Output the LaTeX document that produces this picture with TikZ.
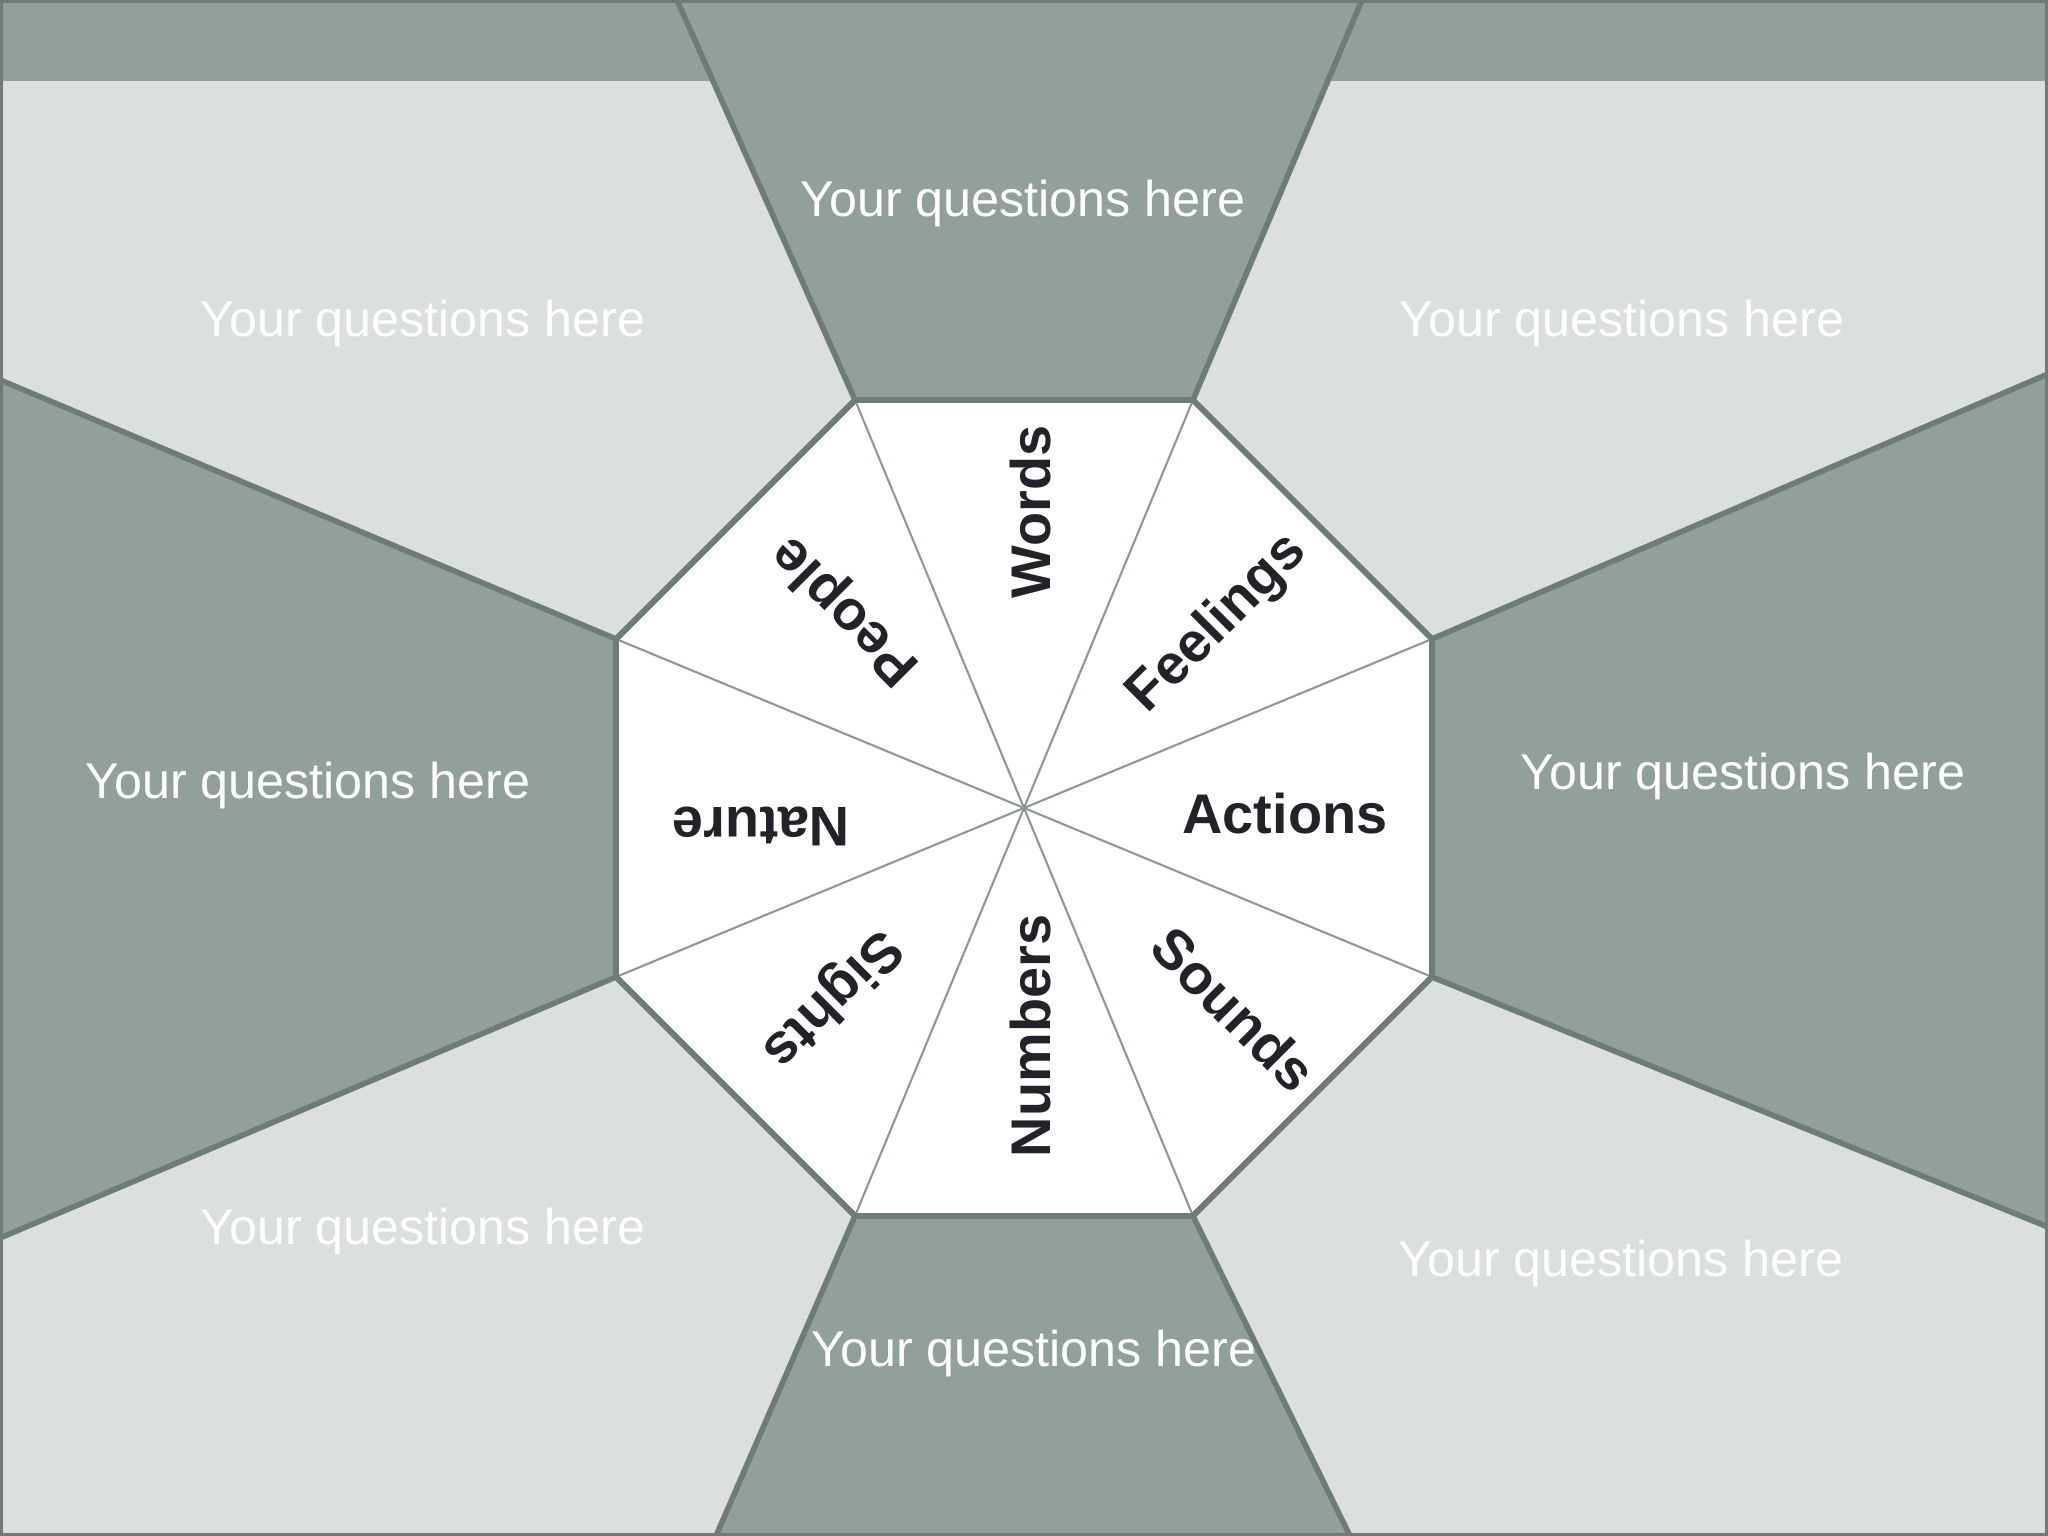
\documentclass[tikz,border=0pt]{standalone}
\usepackage{fontspec}
\setsansfont{Liberation Sans}
\usepackage{tikz}
\definecolor{sage}{HTML}{93A099}
\definecolor{mist}{HTML}{DBE0DD}
\definecolor{rim}{HTML}{6E7C75}
\definecolor{spokegray}{HTML}{8E9994}
\definecolor{ink}{HTML}{222228}

\begin{document}
\begin{tikzpicture}[
    region/.style={draw=rim,line width=1.6pt,line join=round},
    spoke/.style={draw=spokegray,line width=0.6pt},
    question/.style={anchor=base,text=white,font=\sffamily\fontsize{14.3}{17}\selectfont},
    topic/.style={text=ink,inner sep=0,font=\sffamily\bfseries\fontsize{15.9}{19}\selectfont}]
  \useasboundingbox (0,0) rectangle (20.48,15.36);
  \fill[mist] (0,0) rectangle (20.48,15.36);
  \fill[sage] (0,14.55) rectangle (20.48,15.36);

  % corners of the octagon
  \begin{scope}[shift={(10.24,7.28)}]
    \coordinate (c) at (0,0);
    \foreach \i in {0,...,7}
      \coordinate (v\i) at (22.5+45*\i:4.416);
  \end{scope}

  % outer panels
  \filldraw[region,fill=sage] (0,11.56) -- (v3) -- (v4) -- (0,2.98) -- cycle;
  \filldraw[region,fill=sage] (20.48,11.62) -- (v0) -- (v7) -- (20.48,3.09) -- cycle;
  \filldraw[region,fill=sage] (6.77,15.36) -- (13.62,15.36) -- (v1) -- (v2) -- cycle;
  \filldraw[region,fill=sage] (v5) -- (v6) -- (13.50,0) -- (7.16,0) -- cycle;

  % octagon
  \filldraw[region,fill=white] (v0) -- (v1) -- (v2) -- (v3) -- (v4) -- (v5) -- (v6) -- (v7) -- cycle;
  \foreach \i in {0,...,7}
    \draw[spoke] (c) -- (v\i);
  \draw[region] (v0) -- (v1) -- (v2) -- (v3) -- (v4) -- (v5) -- (v6) -- (v7) -- cycle;

  \begin{scope}[shift={(10.24,7.33)}]
    \node[topic,rotate=90] (words) at (0.07,2.91) {Words};
    \node[topic,rotate=45] (feelings) at (1.94,1.79) {Feelings};
    \node[topic] (actions) at (2.61,-0.11) {Actions};
    \node[topic,rotate=-45] (sounds) at (2.10,-2.06) {Sounds};
    \node[topic,rotate=90] (numbers) at (0.07,-2.33) {Numbers};
    \node[topic,rotate=225] (sights) at (-1.93,-1.95) {Sights};
    \node[topic,rotate=180] (nature) at (-2.63,-0.23) {Nature};
    \node[topic,rotate=135] (people) at (-1.78,1.93) {People};
  \end{scope}

  \node[question] (qtop) at (10.23,13.19) {Your questions here};
  \node[question] (qtopleft) at (4.23,11.99) {Your questions here};
  \node[question] (qtopright) at (16.22,11.99) {Your questions here};
  \node[question] (qleft) at (3.08,7.37) {Your questions here};
  \node[question] (qright) at (17.43,7.46) {Your questions here};
  \node[question] (qbotleft) at (4.23,2.91) {Your questions here};
  \node[question] (qbotright) at (16.21,2.59) {Your questions here};
  \node[question] (qbottom) at (10.34,1.69) {Your questions here};

  \draw[rim,line width=1.6pt] (0,0) rectangle (20.48,15.36);
\end{tikzpicture}
\end{document}
